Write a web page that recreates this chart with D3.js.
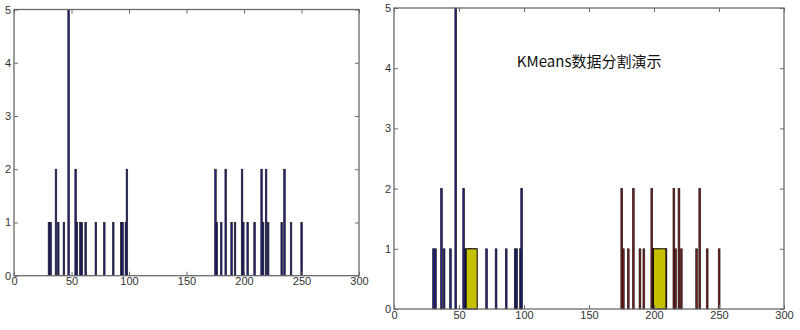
<!DOCTYPE html>
<html>
<head>
<meta charset="utf-8">
<script src="https://cdn.jsdelivr.net/npm/d3@7"></script>
<style>
  html, body { margin: 0; padding: 0; background: #fff; }
  svg { display: block; }
</style>
</head>
<body>
<svg id="chart" width="800" height="330"></svg>
<script>
// ---- data ----
const cluster1Values = [30.4, 31.9, 36.5, 38.5, 43.4, 47.5, 53.6, 54.7, 57.6, 59, 62.3, 71.2, 78.5, 86.3, 93.2, 94.4, 97.3, 98.2];
const cluster1Counts = [1, 1, 2, 1, 1, 5, 2, 1, 1, 1, 1, 1, 1, 1, 1, 1, 1, 2];
const cluster2Values = [175.2, 176.4, 180.2, 184.1, 189.2, 192.2, 198.3, 199.4, 203.2, 209.2, 215.3, 216.6, 219.2, 221, 232.8, 235.2, 240.9, 250.1];
const cluster2Counts = [2, 1, 1, 2, 1, 1, 2, 1, 1, 1, 2, 1, 2, 1, 1, 2, 1, 1];
const centroidStart = [55.5, 199.5];
const centroidEnd = [64, 209.2];
const centroidCounts = [1, 1];
const xTicks = [0, 50, 100, 150, 200, 250, 300];
const yTicks = [0, 1, 2, 3, 4, 5];
const titleText = "KMeans数据分割演示";

// ---- style / layout ----
const binWidth = 1.4;
const navy = "#232384";
const darkRed = "#7a1c1c";
const yellow = "#c4c000";
const frameColor = "#6a6a6a";
const labelColor = "#333";
const svg = d3.select("#chart");

function panel(box) {
  const x = d3.scaleLinear().domain([0, 300]).range([box.left, box.right]);
  const y = d3.scaleLinear().domain([0, 5]).range([box.bottom, box.top]);
  const g = svg.append("g");
  return { x, y, g, box };
}

function drawBars(p, values, counts, fill) {
  p.g.append("g").selectAll("rect")
    .data(values.map((v, i) => ({ v, c: counts[i] })))
    .join("rect")
    .attr("x", d => p.x(d.v - binWidth / 2))
    .attr("width", d => p.x(d.v + binWidth / 2) - p.x(d.v - binWidth / 2))
    .attr("y", d => p.y(d.c))
    .attr("height", d => p.y(0) - p.y(d.c))
    .attr("fill", fill)
    .attr("stroke", "#111")
    .attr("stroke-width", 0.6);
}

function drawRanges(p, starts, ends, counts, fill) {
  p.g.append("g").selectAll("rect")
    .data(starts.map((s, i) => ({ s, e: ends[i], c: counts[i] })))
    .join("rect")
    .attr("x", d => p.x(d.s))
    .attr("width", d => p.x(d.e) - p.x(d.s))
    .attr("y", d => p.y(d.c))
    .attr("height", d => p.y(0) - p.y(d.c))
    .attr("fill", fill)
    .attr("stroke", "#000")
    .attr("stroke-width", 1);
}

function drawAxes(p, xLabelGap) {
  const { x, y, g, box } = p;
  const tickLen = 4;
  const axB = g.append("g").attr("transform", `translate(0,${box.bottom})`)
    .call(d3.axisBottom(x).tickValues(xTicks).tickSize(-tickLen).tickPadding(xLabelGap).tickFormat(d3.format("d")));
  const axT = g.append("g").attr("transform", `translate(0,${box.top})`)
    .call(d3.axisTop(x).tickValues(xTicks).tickSize(-tickLen).tickFormat(""));
  const axL = g.append("g").attr("transform", `translate(${box.left},0)`)
    .call(d3.axisLeft(y).tickValues(yTicks).tickSize(-tickLen).tickPadding(3).tickFormat(d3.format("d")));
  const axR = g.append("g").attr("transform", `translate(${box.right},0)`)
    .call(d3.axisRight(y).tickValues(yTicks).tickSize(-tickLen).tickFormat(""));
  [axB, axT, axL, axR].forEach(a => {
    a.select(".domain").remove();
    a.selectAll(".tick line").attr("stroke", frameColor).attr("stroke-width", 1);
    a.selectAll("text").attr("fill", labelColor)
      .style("font-family", "'Liberation Sans', Arial, sans-serif").style("font-size", "11px");
  });
  g.append("rect")
    .attr("x", box.left).attr("y", box.top)
    .attr("width", box.right - box.left).attr("height", box.bottom - box.top)
    .attr("fill", "none").attr("stroke", frameColor).attr("stroke-width", 1.3);
}

// Left panel: all data
const pL = panel({ left: 14, right: 359, top: 9.5, bottom: 275.7 });
drawBars(pL, cluster1Values.concat(cluster2Values), cluster1Counts.concat(cluster2Counts), navy);
drawAxes(pL, 1);

// Right panel: clusters + centroids
const pR = panel({ left: 394, right: 784, top: 8, bottom: 309 });
drawBars(pR, cluster1Values, cluster1Counts, navy);
drawBars(pR, cluster2Values, cluster2Counts, darkRed);
drawRanges(pR, centroidStart, centroidEnd, centroidCounts, yellow);
drawAxes(pR, 2);

pR.g.append("text")
  .attr("x", pR.x(94.5))
  .attr("y", pR.y(4.08))
  .attr("dominant-baseline", "middle")
  .attr("fill", "#111")
  .style("font-family", "'Noto Sans CJK SC', sans-serif")
  .style("font-size", "15px")
  .text(titleText);
</script>
</body>
</html>
